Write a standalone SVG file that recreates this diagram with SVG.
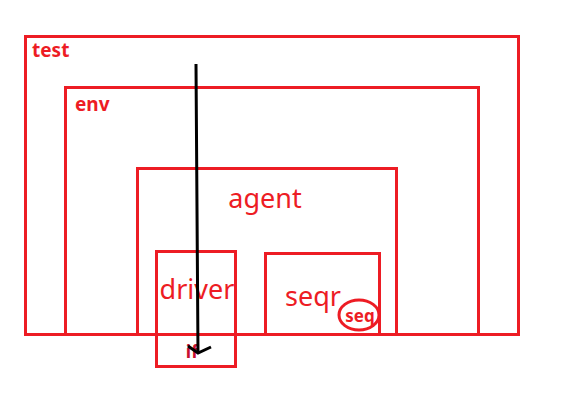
<svg xmlns="http://www.w3.org/2000/svg" width="582" height="416" viewBox="0 0 582 416">
<style>
.box{fill:none;stroke:#ED1C24;stroke-width:3}
.big{font-family:"Noto Sans","Open Sans",sans-serif;font-size:27px;fill:#ED1C24}
.small{font-family:"Noto Sans","Open Sans",sans-serif;font-size:17px;font-weight:bold;fill:#ED1C24}
.label{font-size:19px}
.wire{fill:none;stroke:#000;stroke-width:3}
</style>
<rect width="582" height="416" fill="#fff"/>
<g id="test"><rect class="box" x="25.5" y="36.5" width="493" height="298"/><text class="small label" x="32" y="57">test</text></g>
<g id="env"><rect class="box" x="65.5" y="87.5" width="413" height="247"/><text class="small label" x="75" y="111">env</text></g>
<g id="agent"><rect class="box" x="137.5" y="168.5" width="259" height="166"/><text class="big" x="265" y="208" text-anchor="middle">agent</text></g>
<g id="driver"><rect class="box" x="156.5" y="251.5" width="79" height="115"/><text class="big" x="197" y="299" text-anchor="middle">driver</text></g>
<g id="seqr"><rect class="box" x="265.5" y="253.5" width="114" height="81"/><text class="big" x="313" y="306" text-anchor="middle">seqr</text></g>
<g id="seq"><ellipse class="box" cx="359" cy="315" rx="20" ry="15"/><text class="small" x="360" y="322" text-anchor="middle">seq</text></g>
<g id="if"><text x="192" y="358" text-anchor="middle" font-family="Noto Sans,sans-serif" font-size="18" font-weight="bold" fill="#C8102E">if</text></g>
<g id="connectors">
<polyline class="wire" points="196,64 196.5,137 198,353"/>
<polyline class="wire" points="188,346 198,353 211,347"/>
</g>
</svg>
